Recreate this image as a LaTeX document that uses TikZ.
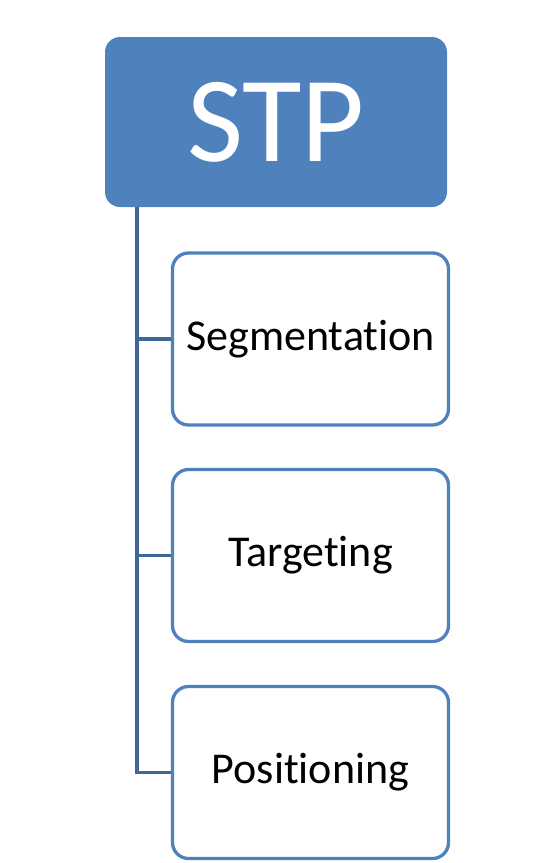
\documentclass[tikz,border=0pt]{standalone}
\usepackage{fontspec}
\setmainfont[Ligatures=NoCommon]{Carlito}
\definecolor{stpblue}{HTML}{4F81BD}
\definecolor{stpline}{HTML}{3F6797}
\begin{document}
\begin{tikzpicture}[x=1pt,y=1pt,
		head/.style={fill=stpblue, text=white, rounded corners=15pt, minimum width=342pt, minimum height=170pt, font=\fontsize{122}{130}\selectfont},
		item/.style={draw=stpblue, line width=3.3pt, rounded corners=16pt, minimum width=276pt, minimum height=172pt, font=\fontsize{44}{50}\selectfont},
		conn/.style={draw=stpline, line width=3.5pt}]
		\useasboundingbox (0,0) rectangle (552,-863);
		
		\node [head] (stp) at (276,-122) {STP};
		
		\node [item] (seg) at (310.5,-339) {Segmentation};
		\node [item] (tar) at (310.5,-555.5) {Targeting};
		\node [item] (pos) at (310.5,-772.5) {Positioning};
		
		\coordinate (trunk) at (137,-207);
		\draw [conn] (trunk) |- (seg.west);
		\draw [conn] (trunk) |- (tar.west);
		\draw [conn] (trunk) |- (pos.west);
		\end{tikzpicture}
\end{document}
